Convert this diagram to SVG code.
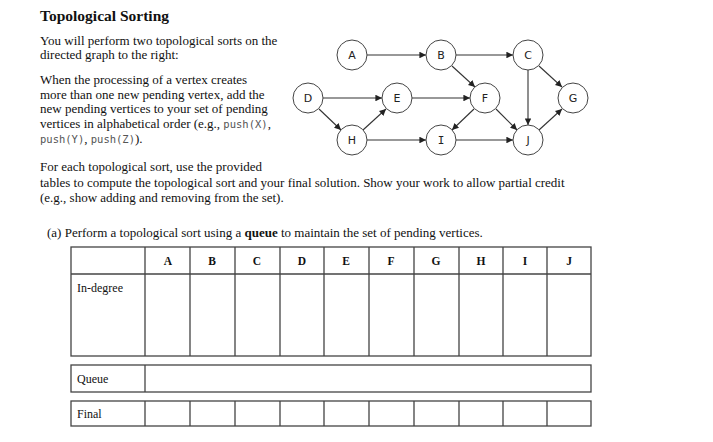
<svg xmlns="http://www.w3.org/2000/svg" width="713" height="442" viewBox="0 0 713 442">
<style>
.t{font-family:"Liberation Serif",serif;font-size:13px;fill:#111}
.m{font-family:"DejaVu Sans Mono","Liberation Mono",monospace;font-size:10.5px;fill:#555}
.n circle{fill:#fff;stroke:#444;stroke-width:1}
.n text{font-family:"DejaVu Sans",sans-serif;font-size:11px;fill:#222;text-anchor:middle}
.e line{stroke:#333;stroke-width:1.1;marker-end:url(#a)}
.g{fill:none;stroke:#444;stroke-width:1.3}
.h{font-family:"Liberation Serif",serif;font-size:11.5px;font-weight:bold;text-anchor:middle;fill:#111}
</style>
<defs><marker id="a" viewBox="0 0 8 8" refX="8" refY="4" markerWidth="6" markerHeight="6" orient="auto"><path d="M0,0L8,4L0,8z" fill="#222"/></marker></defs>
<rect width="713" height="442" fill="#fff"/>
<text x="40" y="21" class="t" style="font-size:15.5px;font-weight:bold">Topological Sorting</text>
<text class="t"><tspan x="40" y="45">You will perform two topological sorts on the</tspan><tspan x="40" y="59">directed graph to the right:</tspan>
<tspan x="40" y="84">When the processing of a vertex creates</tspan><tspan x="40" y="99">more than one new pending vertex, add the</tspan><tspan x="40" y="113">new pending vertices to your set of pending</tspan><tspan x="40" y="128">vertices in alphabetical order (e.g., <tspan class="m">push(X)</tspan>,</tspan><tspan x="40" y="143"><tspan class="m">push(Y)</tspan>, <tspan class="m">push(Z)</tspan>).</tspan>
<tspan x="40" y="171">For each topological sort, use the provided</tspan><tspan x="40" y="187">tables to compute the topological sort and your final solution. Show your work to allow partial credit</tspan><tspan x="40" y="202">(e.g., show adding and removing from the set).</tspan>
<tspan x="47" y="237">(a) Perform a topological sort using a <tspan font-weight="bold">queue</tspan> to maintain the set of pending vertices.</tspan></text>
<g id="edges" class="e">
<line x1="367" y1="55" x2="426" y2="55"/><line x1="456" y1="55" x2="513" y2="55"/>
<line x1="452" y1="66" x2="475" y2="87"/><line x1="539" y1="66" x2="562" y2="87"/>
<line x1="528" y1="70" x2="528" y2="125"/><line x1="323" y1="98" x2="382" y2="98"/>
<line x1="412" y1="98" x2="470" y2="98"/><line x1="319" y1="109" x2="341" y2="130"/>
<line x1="363" y1="130" x2="386" y2="109"/><line x1="474" y1="109" x2="452" y2="130"/>
<line x1="496" y1="109" x2="517" y2="130"/><line x1="539" y1="130" x2="562" y2="109"/>
<line x1="367" y1="140" x2="426" y2="140"/><line x1="456" y1="140" x2="513" y2="140"/>
</g>
<g id="A" class="n"><circle cx="352" cy="55" r="15"/><text x="352" y="59">A</text></g>
<g id="B" class="n"><circle cx="441" cy="55" r="15"/><text x="441" y="59">B</text></g>
<g id="C" class="n"><circle cx="528" cy="55" r="15"/><text x="528" y="59">C</text></g>
<g id="D" class="n"><circle cx="308" cy="98" r="15"/><text x="308" y="102">D</text></g>
<g id="E" class="n"><circle cx="397" cy="98" r="15"/><text x="397" y="102">E</text></g>
<g id="F" class="n"><circle cx="485" cy="98" r="15"/><text x="485" y="102">F</text></g>
<g id="G" class="n"><circle cx="573" cy="98" r="15"/><text x="573" y="102">G</text></g>
<g id="H" class="n"><circle cx="352" cy="140" r="15"/><text x="352" y="144">H</text></g>
<g id="I" class="n"><circle cx="441" cy="140" r="15"/><text x="441" y="144" style="font-family:'DejaVu Sans Mono',monospace">I</text></g>
<g id="J" class="n"><circle cx="528" cy="140" r="15"/><text x="528" y="144">J</text></g>
<g id="table">
<rect class="g" x="71" y="247" width="520" height="109"/>
<line class="g" x1="71" y1="274" x2="591" y2="274"/>
<path class="g" d="M145,247V356M190,247V356M235,247V356M280,247V356M324,247V356M369,247V356M414,247V356M459,247V356M503,247V356M547,247V356"/>
<g class="h"><text x="168" y="265">A</text><text x="212" y="265">B</text><text x="257" y="265">C</text><text x="302" y="265">D</text><text x="346" y="265">E</text><text x="391" y="265">F</text><text x="436" y="265">G</text><text x="481" y="265">H</text><text x="525" y="265">I</text><text x="569" y="265">J</text></g>
<text x="77" y="292" class="t" style="font-size:12px">In-degree</text>
<rect class="g" x="71" y="365" width="520" height="27"/><line class="g" x1="145" y1="365" x2="145" y2="392"/>
<text x="77" y="383" class="t" style="font-size:12px">Queue</text>
<rect class="g" x="71" y="401" width="520" height="25"/>
<path class="g" d="M145,401V426M190,401V426M235,401V426M280,401V426M324,401V426M369,401V426M414,401V426M459,401V426M503,401V426M547,401V426"/>
<text x="77" y="418" class="t" style="font-size:12px">Final</text>
</g>
</svg>
